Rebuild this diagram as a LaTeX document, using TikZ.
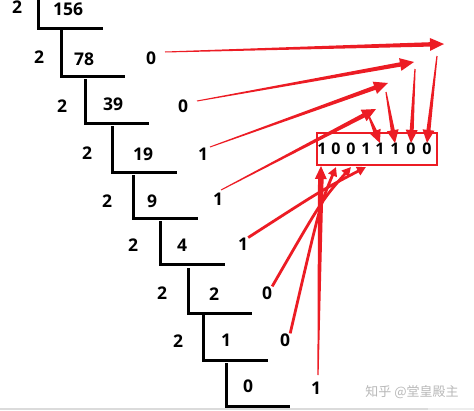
\documentclass[tikz,border=0pt]{standalone}
\usepackage{fontspec}
\setmainfont{Open Sans}
\newfontfamily\cjk{Noto Sans CJK SC}
\usetikzlibrary{calc,arrows.meta}
\definecolor{arrowred}{RGB}{236,28,36}
\newcommand\tarrow[5]{% start, tip, tail half, shaft half, head length
  \coordinate (hb) at ($(#2)!#5!(#1)$);
  \fill[arrowred] ($(#1)!#3!90:(#2)$) -- ($(hb)!#4!90:(#2)$) -- ($(hb)!0.46*#5!90:(#2)$) -- (#2)
    -- ($(hb)!0.46*#5!-90:(#2)$) -- ($(hb)!#4!-90:(#2)$) -- ($(#1)!#3!-90:(#2)$) -- cycle;}
\begin{document}
\begin{tikzpicture}[x=1pt,y=-1pt,
  lbl/.style={font=\bfseries\fontsize{17.5}{17.5}\selectfont,inner sep=0pt},
  bit/.style={font=\bfseries\fontsize{16}{16}\selectfont,inner sep=0pt},
  ladder/.style={line width=3pt,black},
  curvearr/.style={arrowred,line width=2.8pt,-{Triangle[length=9pt,width=9pt]}}]
\useasboundingbox (0,0) rectangle (474,410);
\fill[black!14] (0,407.5) rectangle (428,410);
\fill[black!7] (428,407.5) rectangle (474,410);
% ladder
\draw[ladder] (38,-2) -- (38,28) -- (103,28);
\draw[ladder] (61,30) -- (61,76) -- (125,76);
\draw[ladder] (85,79) -- (85,123) -- (149,123);
\draw[ladder] (112,126) -- (112,172) -- (177,172);
\draw[ladder] (133,175) -- (133,218) -- (198,218);
\draw[ladder] (160,221) -- (160,264) -- (225,264);
\draw[ladder] (188,268) -- (188,313) -- (252,313);
\draw[ladder] (203,315) -- (203,360) -- (268,360);
\draw[ladder] (226,363) -- (226,406) -- (290,406);
% divisors
\node[lbl] (k1) at (17,7) {2};
\node[lbl] (k2) at (39,57) {2};
\node[lbl] (k3) at (62,106) {2};
\node[lbl] (k4) at (87,153) {2};
\node[lbl] (k5) at (107,201) {2};
\node[lbl] (k6) at (133,245) {2};
\node[lbl] (k7) at (162,293) {2};
\node[lbl] (k8) at (178,341) {2};
% quotients
\node[lbl] (q1) at (68,9) {156};
\node[lbl] (q2) at (84,59) {78};
\node[lbl] (q3) at (113,104) {39};
\node[lbl] (q4) at (143,154) {19};
\node[lbl] (q5) at (152,201) {9};
\node[lbl] (q6) at (182,245) {4};
\node[lbl] (q7) at (214,294) {2};
\node[lbl] (q8) at (226,340) {1};
\node[lbl] (q9) at (248,386) {0};
% remainders
\node[lbl] (r2) at (151,58) {0};
\node[lbl] (r3) at (183,106) {0};
\node[lbl] (r4) at (203,154) {1};
\node[lbl] (r5) at (218,199) {1};
\node[lbl] (r6) at (243,244) {1};
\node[lbl] (r7) at (267,293) {0};
\node[lbl] (r8) at (285,340) {0};
\node[lbl] (r9) at (316,388) {1};
% result box
\draw[arrowred,line width=1.7pt] (317,133) rectangle (437,165);
\node[bit] (d1) at (322,149) {1};
\node[bit] (d2) at (336,149) {0};
\node[bit] (d3) at (351,149) {0};
\node[bit] (d4) at (366,149) {1};
\node[bit] (d5) at (380,149) {1};
\node[bit] (d6) at (395,149) {1};
\node[bit] (d7) at (411,149) {0};
\node[bit] (d8) at (427,149) {0};
% intermediate points
\coordinate (s2) at (165,52);
\coordinate (s3) at (197,101);
\coordinate (s4) at (210,147);
\coordinate (s5) at (221,190);
\coordinate (a2) at (444,44);
\coordinate (a3) at (414,62);
\coordinate (a4) at (388,83);
\coordinate (a5) at (376,109);
\coordinate (b2) at (437,56);
\coordinate (b3) at (415,69);
\coordinate (b4) at (386,92);
\coordinate (b5) at (368,114);
% upper arrows
\tarrow{s2}{a2}{0.5pt}{2.2pt}{14pt}
\tarrow{s3}{a3}{0.5pt}{2.2pt}{14pt}
\tarrow{s4}{a4}{0.5pt}{2.2pt}{14pt}
\tarrow{s5}{a5}{0.5pt}{2.2pt}{14pt}
\tarrow{b2}{d8.north}{0.6pt}{2pt}{13pt}
\tarrow{b3}{d7.north}{0.6pt}{2pt}{13pt}
\tarrow{b4}{d6.north}{0.6pt}{2pt}{13pt}
\tarrow{b5}{d5.north}{0.6pt}{2pt}{13pt}
% lower arrows
\coordinate (t9) at (318,375);
\coordinate (e1) at (321,166);
\tarrow{t9}{e1}{0.6pt}{2.8pt}{13pt}
\draw[curvearr] (r6.north east) .. controls (322,190) .. (366,167);
\draw[curvearr] (r7.north east) .. controls (322,200) .. (351,167);
\draw[curvearr] (r8.north east) .. controls (320,205) .. (336,167);
% watermark
\node[font=\cjk\fontsize{13}{13}\selectfont,text=black!28,inner sep=0pt] (wm) at (412,392) {知乎 @堂皇殿主};
\end{tikzpicture}
\end{document}
